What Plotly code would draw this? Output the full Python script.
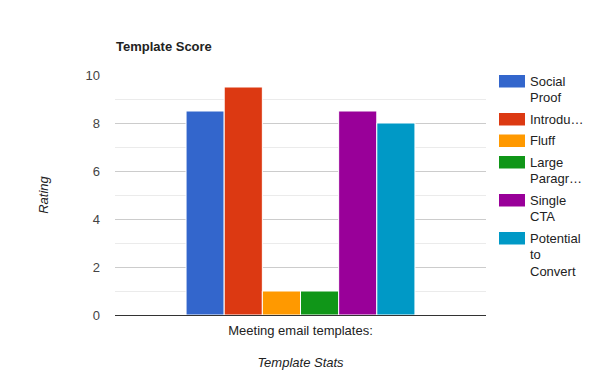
import plotly.graph_objects as go

categories = ["Meeting email templates:"]
series_names = ["Social\nProof", "Introdu…", "Fluff", "Large\nParagr…", "Single\nCTA", "Potential\nto\nConvert"]
series_values = [[8.5], [9.5], [1], [1], [8.5], [8]]
colors = ["#3366cc", "#dc3912", "#ff9900", "#109618", "#990099", "#0099c6"]

W, H = 600, 390
ML, MR, MT, MB = 115, 114, 75, 75
PW, PH = W - ML - MR, H - MT - MB

def px_x(x):
    return (x - ML) / PW

def px_y(y):
    return (H - MB - y) / PH

fig = go.Figure()
for name, vals, c in zip(series_names, series_values, colors):
    fig.add_trace(go.Bar(x=categories, y=vals, name=name.replace("\n", " "), showlegend=False,
                         marker=dict(color=c, line=dict(color="white", width=1))))

# custom legend (Google Charts style)
shapes = []
annotations = []
y = 75
for name, c in zip(series_names, colors):
    shapes.append(dict(type="rect", xref="paper", yref="paper",
                       x0=px_x(499), x1=px_x(525), y0=px_y(y), y1=px_y(y + 12.5),
                       fillcolor=c, line=dict(width=0)))
    lines = name.split("\n")
    for i, ln in enumerate(lines):
        annotations.append(dict(text=ln, xref="paper", yref="paper", x=px_x(528), xanchor="left",
                                y=px_y(y + 6 + i * 16.5), yanchor="middle", showarrow=False,
                                font=dict(size=13, color="#222")))
    y += len(lines) * 16.5 + 5

font = "Arial, Liberation Sans, sans-serif"
fig.update_layout(
    width=W, height=H,
    margin=dict(l=ML, r=MR, t=MT, b=MB),
    paper_bgcolor="white", plot_bgcolor="white",
    barmode="group", bargap=0.383, bargroupgap=0,
    font=dict(family=font, size=13, color="#444"),
    showlegend=False,
    shapes=shapes, annotations=annotations,
    title=dict(text="<b>Template Score</b>", x=116/600, xanchor="left", y=1-46/390, yanchor="middle",
               font=dict(size=13, color="#222")),
    xaxis=dict(showgrid=False, ticks="", tickfont=dict(color="#222", size=13), ticklabelstandoff=6,
               title=dict(text="<i>Template Stats</i>", font=dict(color="#222", size=13), standoff=20)),
    yaxis=dict(range=[0, 10], tickvals=[0, 2, 4, 6, 8, 10], gridcolor="#cccccc", zeroline=True,
               zerolinecolor="#333333", zerolinewidth=1, ticks="", ticklabelstandoff=14,
               minor=dict(tickvals=[1, 3, 5, 7, 9], showgrid=True, gridcolor="#ebebeb"),
               title=dict(text="<i>Rating</i>", font=dict(color="#222", size=13), standoff=33)),
)
fig.write_html("out.html")
